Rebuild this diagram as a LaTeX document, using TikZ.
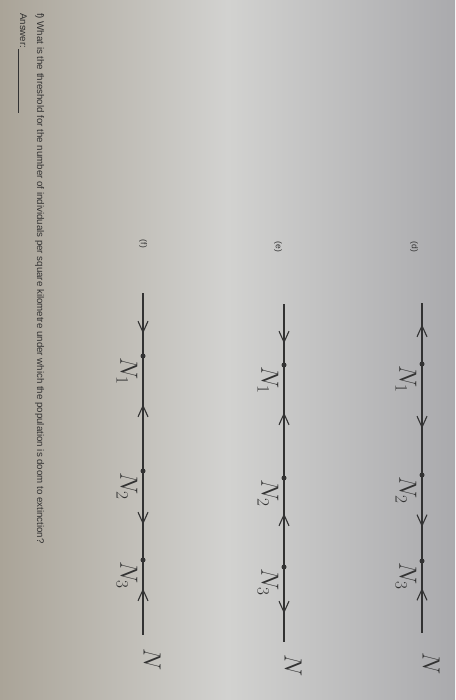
\documentclass[tikz,border=0pt]{standalone}
\usepackage{fontspec}
\setsansfont{Liberation Sans}
\usetikzlibrary{arrows.meta,decorations.markings,calc}

\definecolor{paperleft}{RGB}{170,164,152}
\definecolor{papermid}{RGB}{210,210,208}
\definecolor{paperright}{RGB}{170,170,173}
\definecolor{ink}{RGB}{50,50,50}

\tikzset{
  phase/.style={draw=ink, line width=1.1pt},
  fwd/.style={postaction={decorate}, decoration={markings,
      mark=at position .5 with {\arrow[xshift=9pt]{Straight Barb[length=11pt,width=10pt]}}}},
  bwd/.style={postaction={decorate}, decoration={markings,
      mark=at position .5 with {\arrowreversed[xshift=-9pt]{Straight Barb[length=11pt,width=10pt]}}}},
  fixpt/.style={circle, fill=ink, inner sep=0pt, minimum size=5pt},
  ptlabel/.style={text=ink, font=\fontsize{25}{30}\selectfont},
  caselabel/.style={text=ink, font=\sffamily\fontsize{8.5}{10}\selectfont},
  question/.style={text=ink, font=\sffamily\fontsize{9.7}{11}\selectfont, anchor=base west, inner sep=0pt},
}

\begin{document}
\begin{tikzpicture}[x=1pt,y=1pt]
  % photographed sheet
  \shade[left color=paperleft, right color=paperright, middle color=papermid] (0,0) rectangle (455,-700);
  \begin{scope}[rotate=-90, transform shape]
    % (d)
    \node[caselabel] (dlab) at (247,414) {(d)};
    \coordinate (d0) at (303,422);
    \coordinate (d4) at (633,422);
    \foreach \i/\u in {1/364,2/475,3/561} {
      \node[fixpt] (d\i) at (\u,422) {};
      \node[ptlabel] (dN\i) at (\u+15,406) {$N_\i$};
    }
    \draw[phase,bwd] (d0) -- (d1.center);
    \draw[phase,fwd] (d1.center) -- (d2.center);
    \draw[phase,fwd] (d2.center) -- (d3.center);
    \draw[phase,bwd] (d3.center) -- (d4);
    \node[ptlabel] (dN) at (664,431) {$N$};

    % (e)
    \node[caselabel] (elab) at (247,278) {(e)};
    \coordinate (e0) at (304,284);
    \coordinate (e4) at (642,284);
    \foreach \i/\u in {1/365,2/478,3/567} {
      \node[fixpt] (e\i) at (\u,284) {};
      \node[ptlabel] (eN\i) at (\u+15,268) {$N_\i$};
    }
    \draw[phase,fwd] (e0) -- (e1.center);
    \draw[phase,bwd] (e1.center) -- (e2.center);
    \draw[phase,bwd] (e2.center) -- (e3.center);
    \draw[phase,fwd] (e3.center) -- (e4);
    \node[ptlabel] (eN) at (666,293) {$N$};

    % (f)
    \node[caselabel] (flab) at (244,143) {(f)};
    \coordinate (f0) at (293,143);
    \coordinate (f4) at (635,143);
    \foreach \i/\u in {1/356,2/471,3/560} {
      \node[fixpt] (f\i) at (\u,143) {};
      \node[ptlabel] (fN\i) at (\u+15,127) {$N_\i$};
    }
    \draw[phase,fwd] (f0) -- (f1.center);
    \draw[phase,bwd] (f1.center) -- (f2.center);
    \draw[phase,fwd] (f2.center) -- (f3.center);
    \draw[phase,bwd] (f3.center) -- (f4);
    \node[ptlabel] (fN) at (660,152) {$N$};

    % question
    \node[question] (qtext) at (13,37) {f) What is the threshold for the number of individuals per square kilometre under which the population is doom to extinction?};
    \node[question] (ans) at (13,20) {Answer:};
    \coordinate (blank) at (113,18);
    \draw[ink, line width=.6pt] ([xshift=1pt,yshift=-2pt]ans.base east) -- (blank);
  \end{scope}
\end{tikzpicture}
\end{document}
